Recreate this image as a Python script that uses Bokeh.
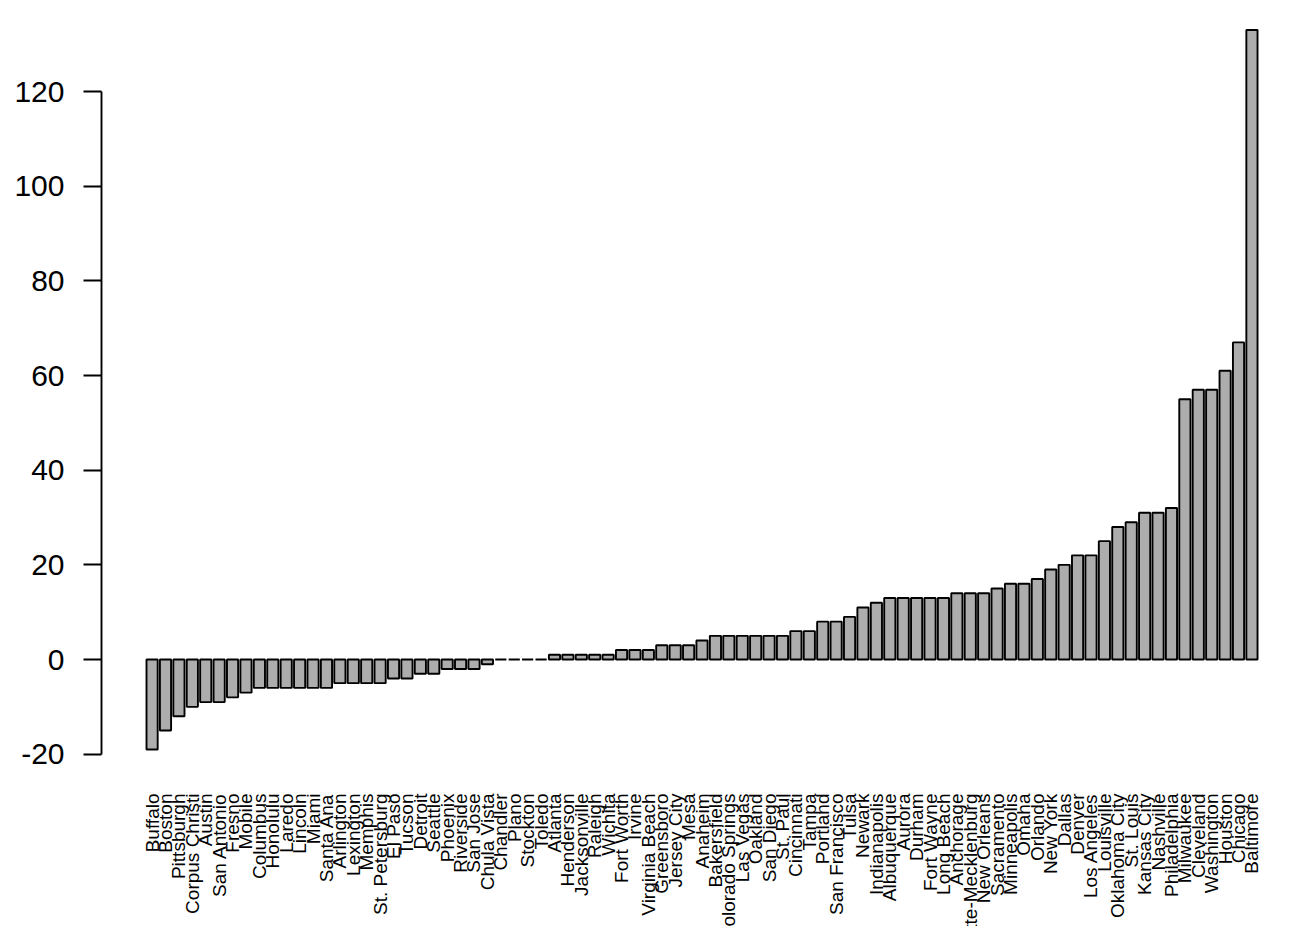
import math
from bokeh.plotting import figure
from bokeh.models import Range1d, FixedTicker, LinearAxis, ColumnDataSource, LabelSet
from bokeh.core.properties import value
from bokeh.embed import file_html
from bokeh.resources import INLINE

cities = [
    "Buffalo", "Boston", "Pittsburgh", "Corpus Christi", "Austin", "San Antonio",
    "Fresno", "Mobile", "Columbus", "Honolulu", "Laredo", "Lincoln", "Miami",
    "Santa Ana", "Arlington", "Lexington", "Memphis", "St. Petersburg", "El Paso",
    "Tucson", "Detroit", "Seattle", "Phoenix", "Riverside", "San Jose",
    "Chula Vista", "Chandler", "Plano", "Stockton", "Toledo", "Atlanta",
    "Henderson", "Jacksonville", "Raleigh", "Wichita", "Fort Worth", "Irvine",
    "Virginia Beach", "Greensboro", "Jersey City", "Mesa", "Anaheim",
    "Bakersfield", "Colorado Springs", "Las Vegas", "Oakland", "San Diego",
    "St. Paul", "Cincinnati", "Tampa", "Portland", "San Francisco", "Tulsa",
    "Newark", "Indianapolis", "Albuquerque", "Aurora", "Durham", "Fort Wayne",
    "Long Beach", "Anchorage", "Charlotte-Mecklenburg", "New Orleans",
    "Sacramento", "Minneapolis", "Omaha", "Orlando", "New York", "Dallas",
    "Denver", "Los Angeles", "Louisville", "Oklahoma City", "St. Louis",
    "Kansas City", "Nashville", "Philadelphia", "Milwaukee", "Cleveland",
    "Washington", "Houston", "Chicago", "Baltimore",
]
changes = [
    -19, -15, -12, -10, -9, -9, -8, -7, -6, -6, -6, -6, -6, -6, -5, -5, -5, -5,
    -4, -4, -3, -3, -2, -2, -2, -1, 0, 0, 0, 0, 1, 1, 1, 1, 1, 2, 2, 2, 3, 3, 3,
    4, 5, 5, 5, 5, 5, 5, 6, 6, 8, 8, 9, 11, 12, 13, 13, 13, 13, 13, 14, 14, 14,
    15, 16, 16, 17, 19, 20, 22, 22, 25, 28, 29, 31, 31, 32, 55, 57, 57, 61, 67,
    133,
]
y_ticks = [-20, 0, 20, 40, 60, 80, 100, 120]
y_tick_labels = ["-20", "0", "20", "40", "60", "80", "100", "120"]

bar_width = 1.0
bar_space = 0.2
xs = [bar_space + bar_width / 2 + i * (bar_width + bar_space) for i in range(len(cities))]

src = ColumnDataSource(dict(x=xs, change=changes, city=cities))

p = figure(
    width=1290, height=926, output_backend="svg", toolbar_location=None,
    x_range=Range1d(-3.826, 102.55), y_range=Range1d(-56.41, 139.23),
    min_border_left=101, min_border_right=0, min_border_top=0, min_border_bottom=0,
    x_axis_location=None, y_axis_location=None,
    background_fill_color="white", border_fill_color="white",
)
p.outline_line_color = None
for g in p.grid:
    g.visible = False

p.vbar(x="x", top="change", bottom=0, width=bar_width, source=src,
       fill_color="#ADADAD", line_color="black", line_width=1.9)

yaxis = LinearAxis(
    ticker=FixedTicker(ticks=y_ticks), bounds=(min(y_ticks), max(y_ticks)),
    major_label_overrides={t: s for t, s in zip(y_ticks, y_tick_labels)},
    axis_line_color="black", axis_line_width=1.9,
    major_tick_line_color="black", major_tick_line_width=1.9,
    major_tick_out=18, major_tick_in=0, minor_tick_line_color=None,
    major_label_text_font="Liberation Sans", major_label_text_font_size="30px",
    major_label_text_color="black", major_label_standoff=19,
)
p.add_layout(yaxis, "left")

labels = LabelSet(
    x="x", y=0, text="city", source=src,
    angle=math.pi / 2, text_align="right", text_baseline="middle",
    y_offset=-134, text_font=value("Liberation Sans"), text_font_size="19px",
    text_color="black",
)
p.add_layout(labels)

open("out.html", "w").write(file_html(p, INLINE))
